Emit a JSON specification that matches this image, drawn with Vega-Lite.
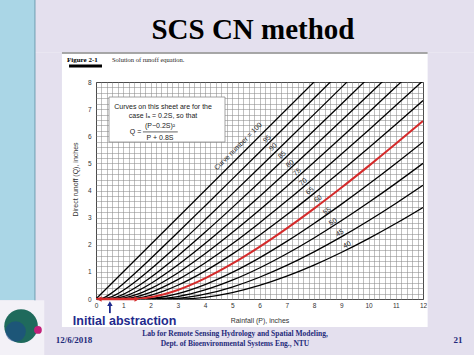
{
  "$schema": "https://vega.github.io/schema/vega-lite/v6.json",
  "width": 327,
  "height": 217,
  "autosize": {"type": "none"},
  "padding": {"left": 96, "top": 82, "right": 51, "bottom": 56},
  "background": "#ffffff",
  "config": {
    "view": {"stroke": "#000000", "strokeWidth": 1},
    "axis": {"grid": true, "gridColor": "#8c8c8c", "gridWidth": 0.55, "gridOpacity": 1, "ticks": false, "domain": false, "labelFont": "Liberation Sans", "labelFontSize": 6.5, "labelColor": "#333333", "labelOverlap": false, "labelFlush": false, "titleFont": "Liberation Sans", "titleFontSize": 7, "titleFontWeight": "normal", "titleColor": "#333333"},
    "text": {"font": "Liberation Sans"}
  },
  "datasets": {
    "curves": [
      {"cn":100,"P":0,"Q":0},{"cn":100,"P":9,"Q":9},
      {"cn":95,"P":0,"Q":0},{"cn":95,"P":0.105,"Q":0},{"cn":95,"P":0.3,"Q":0.0526},{"cn":95,"P":0.5,"Q":0.1692},{"cn":95,"P":1,"Q":0.5634},{"cn":95,"P":1.5,"Q":1.0126},{"cn":95,"P":2,"Q":1.4823},{"cn":95,"P":3,"Q":2.4494},{"cn":95,"P":4,"Q":3.4311},{"cn":95,"P":5,"Q":4.4195},{"cn":95,"P":6,"Q":5.4116},{"cn":95,"P":7,"Q":6.4057},{"cn":95,"P":8,"Q":7.4013},{"cn":95,"P":9,"Q":8.3978},
      {"cn":90,"P":0,"Q":0},{"cn":90,"P":0.222,"Q":0},{"cn":90,"P":0.5,"Q":0.0556},{"cn":90,"P":1,"Q":0.3203},{"cn":90,"P":1.5,"Q":0.6835},{"cn":90,"P":2,"Q":1.094},{"cn":90,"P":3,"Q":1.9841},{"cn":90,"P":4,"Q":2.9192},{"cn":90,"P":5,"Q":3.8763},{"cn":90,"P":6,"Q":4.8459},{"cn":90,"P":7,"Q":5.8232},{"cn":90,"P":8,"Q":6.8056},{"cn":90,"P":9,"Q":7.7915},{"cn":90,"P":10,"Q":8.78},
      {"cn":85,"P":0,"Q":0},{"cn":85,"P":0.353,"Q":0},{"cn":85,"P":0.5,"Q":0.0113},{"cn":85,"P":1,"Q":0.1736},{"cn":85,"P":1.5,"Q":0.4519},{"cn":85,"P":2,"Q":0.7951},{"cn":85,"P":3,"Q":1.5882},{"cn":85,"P":4,"Q":2.4578},{"cn":85,"P":5,"Q":3.368},{"cn":85,"P":6,"Q":4.3025},{"cn":85,"P":7,"Q":5.2526},{"cn":85,"P":8,"Q":6.2132},{"cn":85,"P":9,"Q":7.1815},{"cn":85,"P":10,"Q":8.1552},
      {"cn":80,"P":0,"Q":0},{"cn":80,"P":0.5,"Q":0},{"cn":80,"P":1,"Q":0.0833},{"cn":80,"P":1.5,"Q":0.2857},{"cn":80,"P":2,"Q":0.5625},{"cn":80,"P":3,"Q":1.25},{"cn":80,"P":4,"Q":2.0417},{"cn":80,"P":5,"Q":2.8929},{"cn":80,"P":6,"Q":3.7813},{"cn":80,"P":7,"Q":4.6944},{"cn":80,"P":8,"Q":5.625},{"cn":80,"P":9,"Q":6.5682},{"cn":80,"P":10,"Q":7.5208},{"cn":80,"P":11,"Q":8.4808},
      {"cn":75,"P":0,"Q":0},{"cn":75,"P":0.667,"Q":0},{"cn":75,"P":1,"Q":0.0303},{"cn":75,"P":1.5,"Q":0.1667},{"cn":75,"P":2,"Q":0.381},{"cn":75,"P":3,"Q":0.9608},{"cn":75,"P":4,"Q":1.6667},{"cn":75,"P":5,"Q":2.4493},{"cn":75,"P":6,"Q":3.2821},{"cn":75,"P":7,"Q":4.1494},{"cn":75,"P":8,"Q":5.0417},{"cn":75,"P":9,"Q":5.9524},{"cn":75,"P":10,"Q":6.8772},{"cn":75,"P":11,"Q":7.813},{"cn":75,"P":12,"Q":8.7576},
      {"cn":70,"P":0,"Q":0},{"cn":70,"P":0.857,"Q":0},{"cn":70,"P":1,"Q":0.0046},{"cn":70,"P":1.5,"Q":0.0839},{"cn":70,"P":2,"Q":0.2406},{"cn":70,"P":3,"Q":0.7143},{"cn":70,"P":4,"Q":1.3297},{"cn":70,"P":5,"Q":2.0363},{"cn":70,"P":6,"Q":2.8052},{"cn":70,"P":7,"Q":3.6184},{"cn":70,"P":8,"Q":4.4643},{"cn":70,"P":9,"Q":5.335},{"cn":70,"P":10,"Q":6.2249},{"cn":70,"P":11,"Q":7.13},{"cn":70,"P":12,"Q":8.0476},
      {"cn":65,"P":0,"Q":0},{"cn":65,"P":1.077,"Q":0},{"cn":65,"P":1.5,"Q":0.0308},{"cn":65,"P":2,"Q":0.1351},{"cn":65,"P":2.5,"Q":0.2975},{"cn":65,"P":3,"Q":0.5061},{"cn":65,"P":4,"Q":1.0285},{"cn":65,"P":5,"Q":1.6535},{"cn":65,"P":6,"Q":2.3513},{"cn":65,"P":7,"Q":3.1026},{"cn":65,"P":8,"Q":3.8942},{"cn":65,"P":9,"Q":4.7172},{"cn":65,"P":10,"Q":5.5649},{"cn":65,"P":11,"Q":6.4326},{"cn":65,"P":12,"Q":7.3164},
      {"cn":60,"P":0,"Q":0},{"cn":60,"P":1.333,"Q":0},{"cn":60,"P":1.5,"Q":0.0041},{"cn":60,"P":2,"Q":0.0606},{"cn":60,"P":2.5,"Q":0.1738},{"cn":60,"P":3,"Q":0.3333},{"cn":60,"P":4,"Q":0.7619},{"cn":60,"P":5,"Q":1.3011},{"cn":60,"P":6,"Q":1.9216},{"cn":60,"P":7,"Q":2.6036},{"cn":60,"P":8,"Q":3.3333},{"cn":60,"P":9,"Q":4.1008},{"cn":60,"P":10,"Q":4.8986},{"cn":60,"P":11,"Q":5.7211},{"cn":60,"P":12,"Q":6.5641},
      {"cn":55,"P":0,"Q":0},{"cn":55,"P":1.636,"Q":0},{"cn":55,"P":2,"Q":0.0155},{"cn":55,"P":2.5,"Q":0.0825},{"cn":55,"P":3,"Q":0.1948},{"cn":55,"P":4,"Q":0.5298},{"cn":55,"P":5,"Q":0.98},{"cn":55,"P":6,"Q":1.5178},{"cn":55,"P":7,"Q":2.1239},{"cn":55,"P":8,"Q":2.7841},{"cn":55,"P":9,"Q":3.4881},{"cn":55,"P":10,"Q":4.2278},{"cn":55,"P":11,"Q":4.9972},{"cn":55,"P":12,"Q":5.7915},
      {"cn":50,"P":0,"Q":0},{"cn":50,"P":2,"Q":0},{"cn":50,"P":2.5,"Q":0.0238},{"cn":50,"P":3,"Q":0.0909},{"cn":50,"P":4,"Q":0.3333},{"cn":50,"P":5,"Q":0.6923},{"cn":50,"P":6,"Q":1.1429},{"cn":50,"P":7,"Q":1.6667},{"cn":50,"P":8,"Q":2.25},{"cn":50,"P":9,"Q":2.8824},{"cn":50,"P":10,"Q":3.5556},{"cn":50,"P":11,"Q":4.2632},{"cn":50,"P":12,"Q":5},
      {"cn":45,"P":0,"Q":0},{"cn":45,"P":2.444,"Q":0},{"cn":45,"P":3,"Q":0.0242},{"cn":45,"P":3.5,"Q":0.0839},{"cn":45,"P":4,"Q":0.1756},{"cn":45,"P":5,"Q":0.4419},{"cn":45,"P":6,"Q":0.8013},{"cn":45,"P":7,"Q":1.2369},{"cn":45,"P":8,"Q":1.7361},{"cn":45,"P":9,"Q":2.2886},{"cn":45,"P":10,"Q":2.8864},{"cn":45,"P":11,"Q":3.5229},{"cn":45,"P":12,"Q":4.1927},
      {"cn":40,"P":0,"Q":0},{"cn":40,"P":3,"Q":0},{"cn":40,"P":3.5,"Q":0.0161},{"cn":40,"P":4,"Q":0.0625},{"cn":40,"P":5,"Q":0.2353},{"cn":40,"P":6,"Q":0.5},{"cn":40,"P":7,"Q":0.8421},{"cn":40,"P":8,"Q":1.25},{"cn":40,"P":9,"Q":1.7143},{"cn":40,"P":10,"Q":2.2273},{"cn":40,"P":11,"Q":2.7826},{"cn":40,"P":12,"Q":3.375}
    ],
    "labels": [
      {"cn":100,"lab":"Curve number = 100","P":5.22,"Q":5.62},
      {"cn":95,"lab":"95","P":6.28,"Q":5.9},
      {"cn":90,"lab":"90","P":6.5,"Q":5.6},
      {"cn":85,"lab":"85","P":6.83,"Q":5.31},
      {"cn":80,"lab":"80","P":7.12,"Q":4.98},
      {"cn":75,"lab":"75","P":7.38,"Q":4.68},
      {"cn":70,"lab":"70","P":7.6,"Q":4.31},
      {"cn":65,"lab":"65","P":7.85,"Q":3.98},
      {"cn":60,"lab":"60","P":8.15,"Q":3.69},
      {"cn":55,"lab":"55","P":8.48,"Q":3.24},
      {"cn":50,"lab":"50","P":8.7,"Q":2.84},
      {"cn":45,"lab":"45","P":8.95,"Q":2.43},
      {"cn":40,"lab":"40","P":9.21,"Q":1.99}
    ],
    "one": [{}]
  },
  "layer": [
    {
      "data": {"name": "curves"},
      "transform": [{"filter": "datum.cn !== 60"}],
      "mark": {"type": "line", "clip": true, "interpolate": "monotone", "color": "#000000", "strokeWidth": 1.3},
      "encoding": {
        "x": {"field": "P", "type": "quantitative", "scale": {"domain": [0, 12], "nice": false, "zero": false},
          "axis": {"values": [0,0.2,0.4,0.6,0.8,1,1.2,1.4,1.6,1.8,2,2.2,2.4,2.6,2.8,3,3.2,3.4,3.6,3.8,4,4.2,4.4,4.6,4.8,5,5.2,5.4,5.6,5.8,6,6.2,6.4,6.6,6.8,7,7.2,7.4,7.6,7.8,8,8.2,8.4,8.6,8.8,9,9.2,9.4,9.6,9.8,10,10.2,10.4,10.6,10.8,11,11.2,11.4,11.6,11.8,12],
            "tickCount": 500, "labelExpr": "datum.value % 1 === 0 ? format(datum.value, 'd') : ''", "labelOverlap": false, "labelFlush": false, "labelPadding": 3, "title": "Rainfall (P), inches", "titlePadding": 8}},
        "y": {"field": "Q", "type": "quantitative", "scale": {"domain": [0, 8], "nice": false, "zero": false},
          "axis": {"values": [0,0.2,0.4,0.6,0.8,1,1.2,1.4,1.6,1.8,2,2.2,2.4,2.6,2.8,3,3.2,3.4,3.6,3.8,4,4.2,4.4,4.6,4.8,5,5.2,5.4,5.6,5.8,6,6.2,6.4,6.6,6.8,7,7.2,7.4,7.6,7.8,8],
            "tickCount": 500, "labelExpr": "datum.value % 1 === 0 ? format(datum.value, 'd') : ''", "labelOverlap": false, "labelFlush": false, "labelPadding": 5, "title": "Direct runoff (Q), inches", "titlePadding": 9, "titleY": 97}},
        "detail": {"field": "cn", "type": "nominal"}
      }
    },
    {
      "data": {"name": "curves"},
      "transform": [{"filter": "datum.cn === 60"}],
      "mark": {"type": "line", "clip": true, "interpolate": "monotone", "color": "#d42a2a", "strokeWidth": 2},
      "encoding": {
        "x": {"field": "P", "type": "quantitative", "title": "Rainfall (P), inches"},
        "y": {"field": "Q", "type": "quantitative", "title": "Direct runoff (Q), inches"}
      }
    },
    {"data": {"name": "one"}, "mark": {"type": "rect", "color": "#e4e0ee"}, "encoding": {"x": {"datum": -4}, "x2": {"datum": 14.5}, "y": {"datum": 9.1}, "y2": {"datum": 11.5}}},
    {"data": {"name": "one"}, "mark": {"type": "rect", "color": "#e4e0ee"}, "encoding": {"x": {"datum": -4}, "x2": {"datum": 14.5}, "y": {"datum": -1.03}, "y2": {"datum": -2.5}}},
    {"data": {"name": "one"}, "mark": {"type": "rect", "color": "#e4e0ee"}, "encoding": {"x": {"datum": -4}, "x2": {"datum": -1.25}, "y": {"datum": -1.03}, "y2": {"datum": 9.1}}},
    {"data": {"name": "one"}, "mark": {"type": "rect", "color": "#e4e0ee"}, "encoding": {"x": {"datum": 12.17}, "x2": {"datum": 14.5}, "y": {"datum": -1.03}, "y2": {"datum": 9.1}}},
    {"data": {"name": "one"}, "mark": {"type": "rect", "color": "#aad6e6"}, "encoding": {"x": {"datum": -4}, "x2": {"datum": -2.24}, "y": {"datum": -0.05}, "y2": {"datum": 11.5}}},
    {"data": {"name": "one"}, "mark": {"type": "rect", "color": "#f3f1f7"}, "encoding": {"x": {"datum": -4}, "x2": {"datum": -1.9}, "y": {"datum": -0.05}, "y2": {"datum": -2.5}}},
    {"data": {"name": "one"}, "mark": {"type": "rule", "color": "#6f9fb0", "strokeWidth": 1}, "encoding": {"x": {"datum": -2.24}, "y": {"datum": -0.05}, "y2": {"datum": 11.5}}},
    {"data": {"name": "one"}, "mark": {"type": "point", "filled": true, "shape": "circle", "size": 1130, "color": "#1f6a5c", "opacity": 1}, "encoding": {"x": {"datum": -2.75}, "y": {"datum": -1.0}}},
    {"data": {"name": "one"}, "mark": {"type": "point", "filled": true, "shape": "circle", "size": 420, "color": "#1d4a8a", "opacity": 0.6}, "encoding": {"x": {"datum": -2.95}, "y": {"datum": -1.2}}},
    {"data": {"name": "one"}, "mark": {"type": "point", "filled": true, "shape": "circle", "size": 60, "color": "#c2207a", "opacity": 1}, "encoding": {"x": {"datum": -2.13}, "y": {"datum": -1.14}}},
    {"data": {"name": "one"}, "mark": {"type": "rule", "color": "#8a8a8a", "strokeWidth": 1.5}, "encoding": {"x": {"datum": -1.25}, "x2": {"datum": 12.17}, "y": {"datum": 9.07}}},
    {"data": {"name": "one"}, "mark": {"type": "text", "text": "SCS CN method", "font": "Liberation Serif", "fontWeight": "bold", "fontSize": 29, "color": "#000000", "align": "center", "baseline": "alphabetic"}, "encoding": {"x": {"datum": 5.76}, "y": {"datum": 9.585}}},
    {"data": {"name": "one"}, "mark": {"type": "text", "text": "Figure 2-1", "font": "Liberation Serif", "fontWeight": "bold", "fontSize": 7, "color": "#000000", "align": "left", "baseline": "middle"}, "encoding": {"x": {"datum": -1.064}, "y": {"datum": 8.81}}},
    {"data": {"name": "one"}, "mark": {"type": "text", "text": "Solution of runoff equation.", "font": "Liberation Serif", "fontSize": 6.5, "color": "#222222", "align": "left", "baseline": "middle"}, "encoding": {"x": {"datum": 0.587}, "y": {"datum": 8.81}}},
    {"data": {"name": "one"}, "mark": {"type": "rule", "color": "#000000", "strokeWidth": 3}, "encoding": {"x": {"datum": -0.99}, "x2": {"datum": 0.22}, "y": {"datum": 8.59}}},
    {"data": {"name": "one"}, "mark": {"type": "rect", "fill": "#ffffff", "stroke": "#8a8a8a", "strokeWidth": 0.8}, "encoding": {"x": {"datum": 0.477}, "x2": {"datum": 4.734}, "y": {"datum": 5.788}, "y2": {"datum": 7.447}}},
    {"data": {"name": "one"}, "mark": {"type": "text", "text": "Curves on this sheet are for the", "fontSize": 7, "color": "#222222", "align": "center", "baseline": "middle"}, "encoding": {"x": {"datum": 2.46}, "y": {"datum": 7.08}}},
    {"data": {"name": "one"}, "mark": {"type": "text", "text": "case Iₐ = 0.2S, so that", "fontSize": 7, "color": "#222222", "align": "center", "baseline": "middle"}, "encoding": {"x": {"datum": 2.46}, "y": {"datum": 6.75}}},
    {"data": {"name": "one"}, "mark": {"type": "text", "text": "(P−0.2S)²", "fontSize": 7, "color": "#222222", "align": "center", "baseline": "middle"}, "encoding": {"x": {"datum": 2.35}, "y": {"datum": 6.36}}},
    {"data": {"name": "one"}, "mark": {"type": "rule", "color": "#222222", "strokeWidth": 0.7}, "encoding": {"x": {"datum": 1.72}, "x2": {"datum": 3.0}, "y": {"datum": 6.16}}},
    {"data": {"name": "one"}, "mark": {"type": "text", "text": "P + 0.8S", "fontSize": 7, "color": "#222222", "align": "center", "baseline": "middle"}, "encoding": {"x": {"datum": 2.35}, "y": {"datum": 5.95}}},
    {"data": {"name": "one"}, "mark": {"type": "text", "text": "Q =", "fontSize": 7, "color": "#222222", "align": "right", "baseline": "middle"}, "encoding": {"x": {"datum": 1.66}, "y": {"datum": 6.14}}},
    {
      "data": {"name": "labels"},
      "mark": {"type": "text", "fontSize": 7, "color": "#222222", "align": "center", "baseline": "middle"},
      "encoding": {
        "x": {"field": "P", "type": "quantitative", "title": "Rainfall (P), inches"},
        "y": {"field": "Q", "type": "quantitative", "title": "Direct runoff (Q), inches"},
        "text": {"field": "lab"},
        "angle": {"field": "cn", "type": "quantitative", "scale": {"domain": [40, 60, 80, 100], "range": [333, 323, 317, 315]}, "legend": null}
      }
    },
    {"data": {"name": "one"}, "mark": {"type": "rule", "color": "#d42a2a", "strokeWidth": 2.5}, "encoding": {"x": {"datum": 0.05}, "x2": {"datum": 1.5}, "y": {"datum": 0}}},
    {"data": {"name": "one"}, "mark": {"type": "point", "shape": "triangle-left", "filled": true, "size": 30, "color": "#d42a2a", "opacity": 1}, "encoding": {"x": {"datum": 0.12}, "y": {"datum": 0}}},
    {"data": {"name": "one"}, "mark": {"type": "point", "shape": "triangle-right", "filled": true, "size": 30, "color": "#d42a2a", "opacity": 1}, "encoding": {"x": {"datum": 1.5}, "y": {"datum": 0}}},
    {"data": {"name": "one"}, "mark": {"type": "rule", "color": "#1f2a8c", "strokeWidth": 1.8}, "encoding": {"x": {"datum": 0.51}, "y": {"datum": -0.2}, "y2": {"datum": -0.52}}},
    {"data": {"name": "one"}, "mark": {"type": "point", "shape": "triangle-up", "filled": true, "size": 30, "color": "#1f2a8c", "opacity": 1}, "encoding": {"x": {"datum": 0.51}, "y": {"datum": -0.17}}},
    {"data": {"name": "one"}, "mark": {"type": "text", "text": "Initial abstraction", "fontWeight": "bold", "fontSize": 12.5, "color": "#1f2a8c", "align": "center", "baseline": "middle"}, "encoding": {"x": {"datum": 1.05}, "y": {"datum": -0.81}}},
    {"data": {"name": "one"}, "mark": {"type": "text", "text": "12/6/2018", "font": "Liberation Serif", "fontWeight": "bold", "fontSize": 9, "color": "#1f2a7a", "align": "center", "baseline": "middle"}, "encoding": {"x": {"datum": -0.81}, "y": {"datum": -1.51}}},
    {"data": {"name": "one"}, "mark": {"type": "text", "text": "Lab for Remote Sensing Hydrology and Spatial Modeling,", "font": "Liberation Serif", "fontWeight": "bold", "fontSize": 7.5, "color": "#1f2a7a", "align": "center", "baseline": "middle"}, "encoding": {"x": {"datum": 5.1}, "y": {"datum": -1.29}}},
    {"data": {"name": "one"}, "mark": {"type": "text", "text": "Dept. of Bioenvironmental Systems Eng., NTU", "font": "Liberation Serif", "fontWeight": "bold", "fontSize": 7.5, "color": "#1f2a7a", "align": "center", "baseline": "middle"}, "encoding": {"x": {"datum": 5.1}, "y": {"datum": -1.66}}},
    {"data": {"name": "one"}, "mark": {"type": "text", "text": "21", "font": "Liberation Serif", "fontWeight": "bold", "fontSize": 9, "color": "#1f2a7a", "align": "center", "baseline": "middle"}, "encoding": {"x": {"datum": 13.28}, "y": {"datum": -1.51}}}
  ]
}
